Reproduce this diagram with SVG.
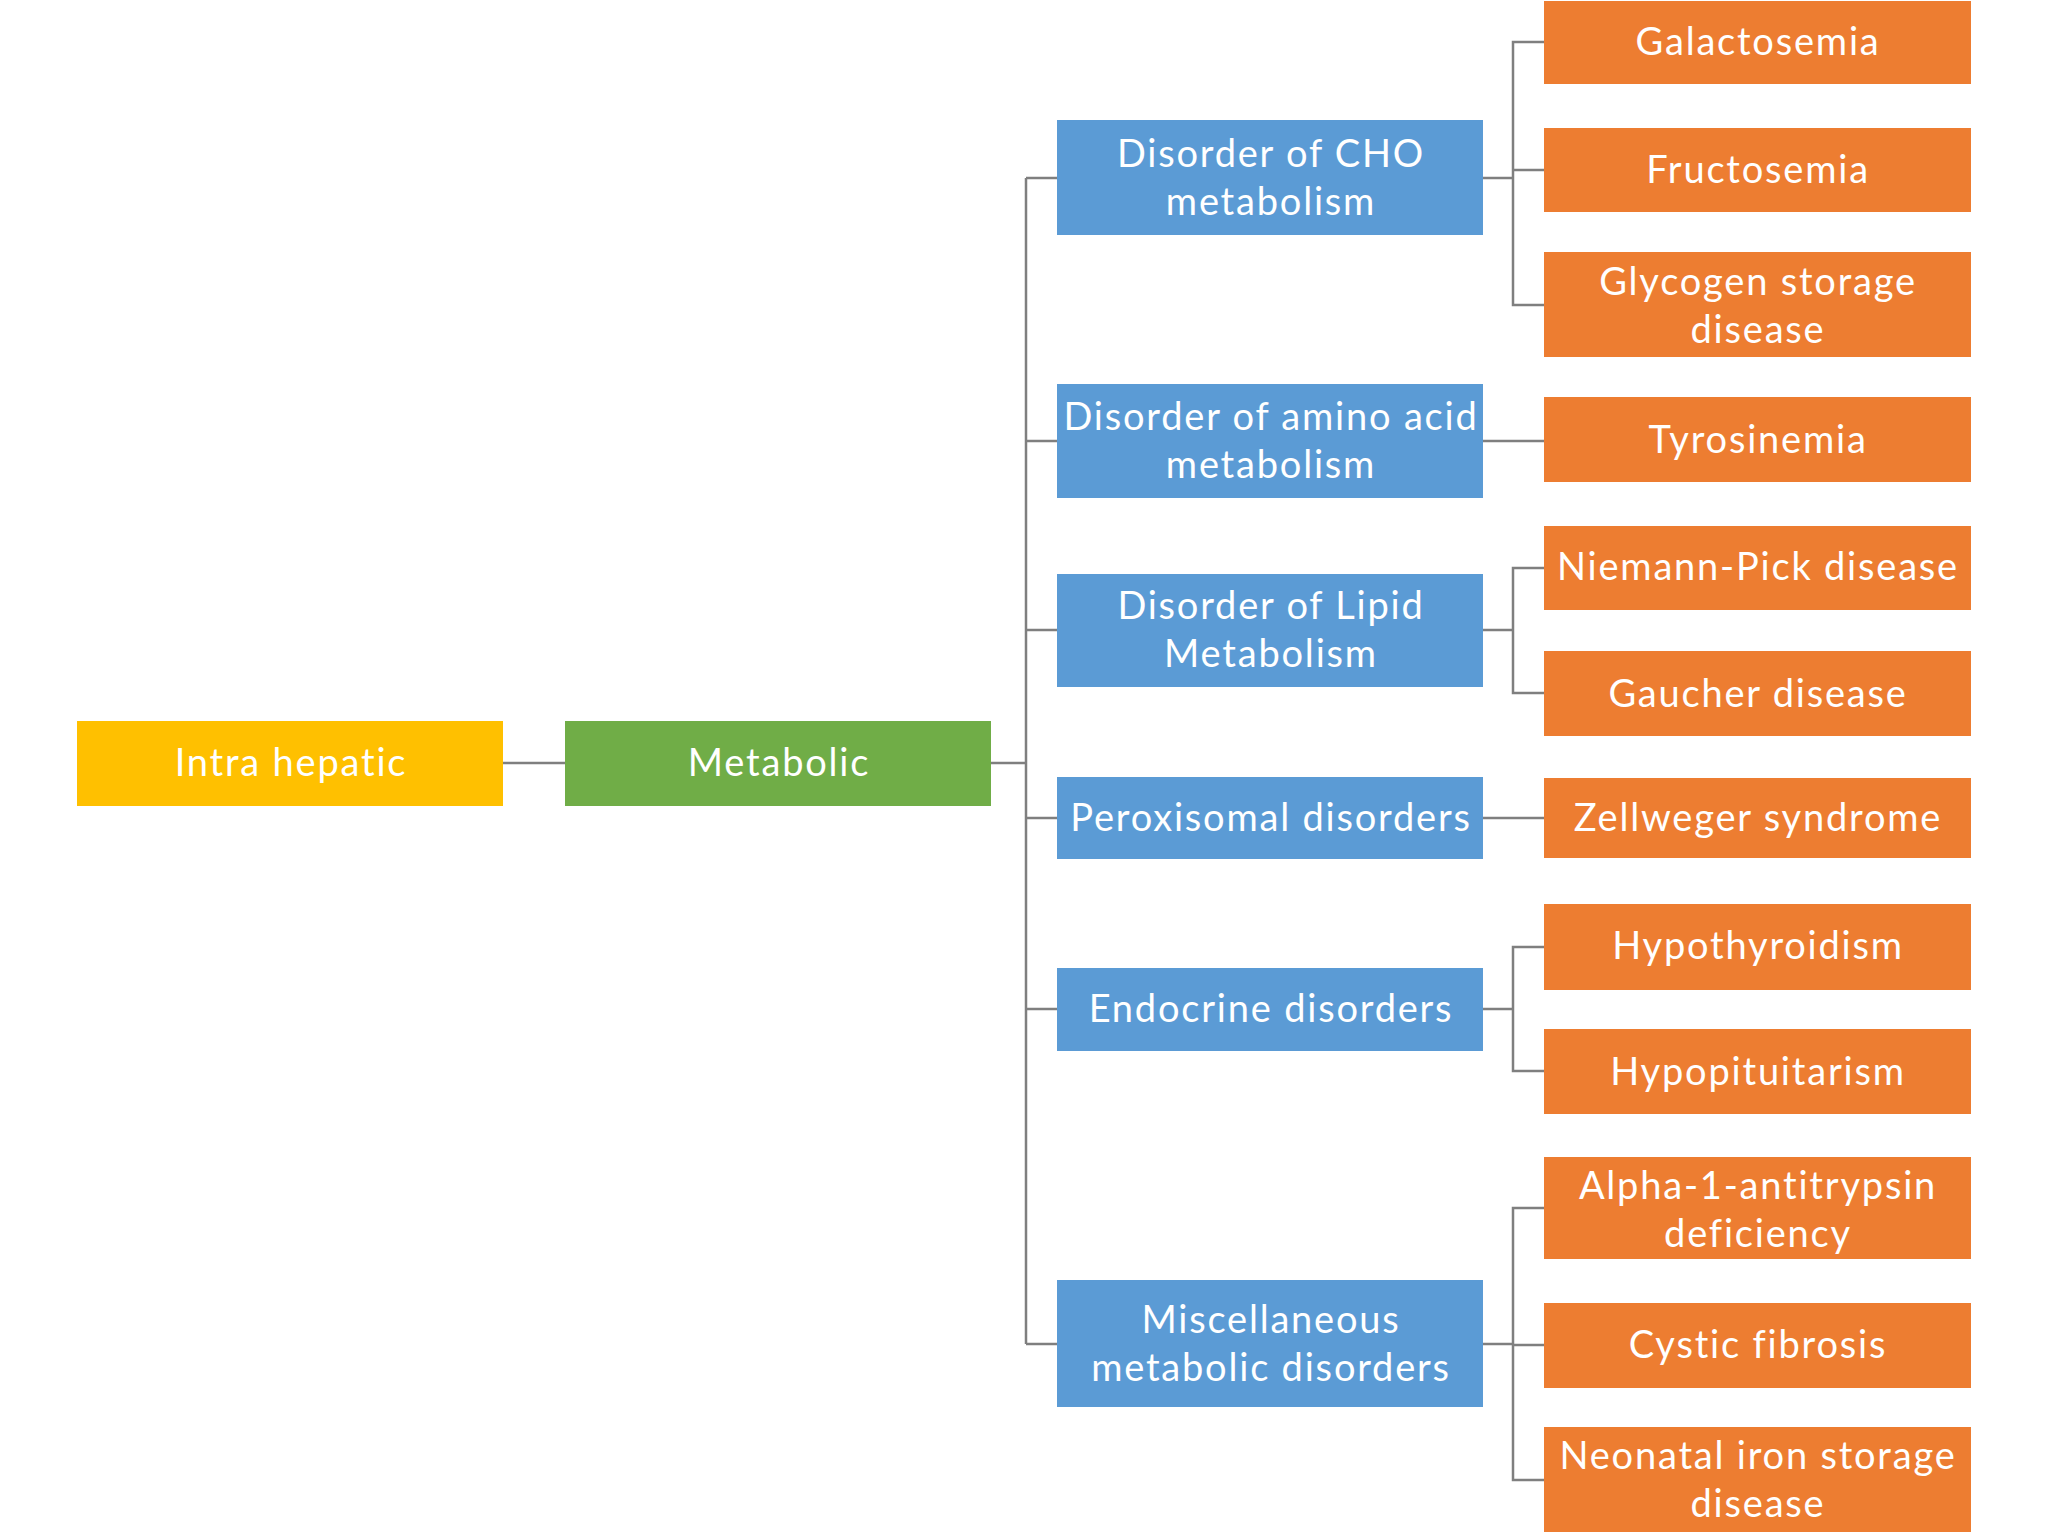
<svg xmlns="http://www.w3.org/2000/svg" width="2048" height="1536" viewBox="0 0 2048 1536">
<style>
.y{fill:#FFC000}
.g{fill:#70AD47}
.b{fill:#5B9BD5}
.o{fill:#ED7D31}
text{font-family:Lato,"Open Sans","Liberation Sans",sans-serif;font-size:38px;letter-spacing:1.8px;fill:#FFFFFF;text-anchor:middle}
.c{fill:none;stroke:#7F7F7F;stroke-width:2.5}
</style>
<rect width="2048" height="1536" fill="#FFFFFF"/>
<g id="connectors" class="c">
<path d="M503,763 H565"/>
<path d="M991,763 H1026"/>
<path d="M1026,178 V1344"/>
<path d="M1026,178 H1057 M1026,441 H1057 M1026,630 H1057 M1026,818 H1057 M1026,1009 H1057 M1026,1344 H1057"/>
<path d="M1483,178 H1513 M1544,42 H1513 V305 H1544 M1513,170 H1544"/>
<path d="M1483,441 H1544"/>
<path d="M1483,630 H1513 M1544,568 H1513 V693 H1544"/>
<path d="M1483,818 H1544"/>
<path d="M1483,1009 H1513 M1544,947 H1513 V1071 H1544"/>
<path d="M1483,1344 H1513 M1544,1208 H1513 V1480 H1544 M1513,1345 H1544"/>
</g>
<g id="intra-hepatic"><rect class="y" x="77" y="721" width="426" height="85"/><text x="291" y="776">Intra hepatic</text></g>
<g id="metabolic"><rect class="g" x="565" y="721" width="426" height="85"/><text x="779" y="776">Metabolic</text></g>
<g id="cho"><rect class="b" x="1057" y="120" width="426" height="115"/><text x="1271" y="167">Disorder of CHO</text><text x="1271" y="215">metabolism</text></g>
<g id="amino"><rect class="b" x="1057" y="384" width="426" height="114"/><text x="1271" y="430">Disorder of amino acid</text><text x="1271" y="478">metabolism</text></g>
<g id="lipid"><rect class="b" x="1057" y="574" width="426" height="113"/><text x="1271" y="619">Disorder of Lipid</text><text x="1271" y="667">Metabolism</text></g>
<g id="peroxisomal"><rect class="b" x="1057" y="777" width="426" height="82"/><text x="1271" y="831">Peroxisomal disorders</text></g>
<g id="endocrine"><rect class="b" x="1057" y="968" width="426" height="83"/><text x="1271" y="1022">Endocrine disorders</text></g>
<g id="misc"><rect class="b" x="1057" y="1280" width="426" height="127"/><text x="1271" y="1333">Miscellaneous</text><text x="1271" y="1381">metabolic disorders</text></g>
<g id="galactosemia"><rect class="o" x="1544" y="1" width="427" height="83"/><text x="1758" y="55">Galactosemia</text></g>
<g id="fructosemia"><rect class="o" x="1544" y="128" width="427" height="84"/><text x="1758" y="183">Fructosemia</text></g>
<g id="glycogen"><rect class="o" x="1544" y="252" width="427" height="105"/><text x="1758" y="295">Glycogen storage</text><text x="1758" y="343">disease</text></g>
<g id="tyrosinemia"><rect class="o" x="1544" y="397" width="427" height="85"/><text x="1758" y="453">Tyrosinemia</text></g>
<g id="niemann-pick"><rect class="o" x="1544" y="526" width="427" height="84"/><text x="1758" y="580">Niemann-Pick disease</text></g>
<g id="gaucher"><rect class="o" x="1544" y="651" width="427" height="85"/><text x="1758" y="707">Gaucher disease</text></g>
<g id="zellweger"><rect class="o" x="1544" y="778" width="427" height="80"/><text x="1758" y="831">Zellweger syndrome</text></g>
<g id="hypothyroidism"><rect class="o" x="1544" y="904" width="427" height="86"/><text x="1758" y="959">Hypothyroidism</text></g>
<g id="hypopituitarism"><rect class="o" x="1544" y="1029" width="427" height="85"/><text x="1758" y="1085">Hypopituitarism</text></g>
<g id="alpha1"><rect class="o" x="1544" y="1157" width="427" height="102"/><text x="1758" y="1199">Alpha-1-antitrypsin</text><text x="1758" y="1247">deficiency</text></g>
<g id="cystic-fibrosis"><rect class="o" x="1544" y="1303" width="427" height="85"/><text x="1758" y="1358">Cystic fibrosis</text></g>
<g id="neonatal-iron"><rect class="o" x="1544" y="1427" width="427" height="105"/><text x="1758" y="1469">Neonatal iron storage</text><text x="1758" y="1517">disease</text></g>
</svg>
